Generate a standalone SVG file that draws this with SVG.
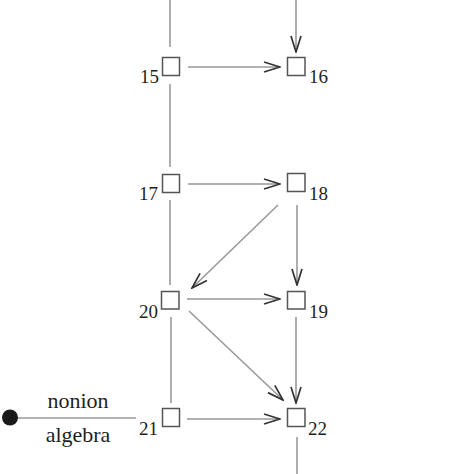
<svg xmlns="http://www.w3.org/2000/svg" width="474" height="474" viewBox="0 0 474 474">
<style>
.ln{stroke:#999;stroke-width:1.6;fill:none}
.ar{marker-end:url(#ah)}
.box{fill:#fff;stroke:#555;stroke-width:1.5}
.lb{font-family:"Liberation Serif","Times New Roman",serif;font-size:19px;fill:#1e1e1e}
.tx{font-family:"Liberation Serif","Times New Roman",serif;font-size:22px;fill:#1e1e1e;text-anchor:middle}
</style>
<defs>
<marker id="ah" viewBox="0 0 18 12" refX="17" refY="6" markerWidth="18" markerHeight="12" markerUnits="userSpaceOnUse" orient="auto">
<path d="M1,1 L17,6 L1,11" fill="none" stroke="#333" stroke-width="1.7"/>
</marker>
</defs>
<rect width="474" height="474" fill="#fff"/>
<g id="connectors">
<line class="ln" x1="170" y1="0" x2="170" y2="47"/>
<line class="ln ar" x1="296" y1="0" x2="296" y2="52"/>
<line class="ln" x1="170" y1="84" x2="170" y2="167"/>
<line class="ln ar" x1="188" y1="67" x2="280" y2="67"/>
<line class="ln" x1="170" y1="200" x2="170" y2="285"/>
<line class="ln ar" x1="188" y1="184" x2="280" y2="184"/>
<line class="ln ar" x1="297" y1="205" x2="297" y2="285"/>
<line class="ln ar" x1="278" y1="205" x2="192" y2="288"/>
<line class="ln ar" x1="187" y1="299" x2="280" y2="299"/>
<line class="ln ar" x1="189" y1="311" x2="283" y2="400"/>
<line class="ln ar" x1="296" y1="317" x2="296" y2="403"/>
<line class="ln" x1="171" y1="317" x2="171" y2="403"/>
<line class="ln ar" x1="187" y1="419" x2="280" y2="419"/>
<line class="ln" x1="297" y1="437" x2="297" y2="474"/>
<line class="ln" x1="11" y1="418" x2="136" y2="418"/>
</g>
<g id="n15"><rect class="box" x="162.5" y="57.5" width="17" height="18"/><text class="lb" x="159" y="83" text-anchor="end">15</text></g>
<g id="n16"><rect class="box" x="287.5" y="57.5" width="17.5" height="18"/><text class="lb" x="309" y="83">16</text></g>
<g id="n17"><rect class="box" x="162.5" y="174.5" width="17" height="18"/><text class="lb" x="158" y="200" text-anchor="end">17</text></g>
<g id="n18"><rect class="box" x="287.5" y="173.5" width="17.5" height="18"/><text class="lb" x="309" y="200">18</text></g>
<g id="n20"><rect class="box" x="161.5" y="291.5" width="17.5" height="17.5"/><text class="lb" x="158" y="318" text-anchor="end">20</text></g>
<g id="n19"><rect class="box" x="287.5" y="291.5" width="17.5" height="17.5"/><text class="lb" x="309" y="318">19</text></g>
<g id="n21"><rect class="box" x="162.5" y="408.5" width="17" height="18"/><text class="lb" x="158" y="435" text-anchor="end">21</text></g>
<g id="n22"><rect class="box" x="287.5" y="408.5" width="17.5" height="18"/><text class="lb" x="308" y="435">22</text></g>
<g id="nonion">
<circle cx="10" cy="417.5" r="8" fill="#1a1a1a"/>
<text class="tx" x="78" y="408">nonion</text>
<text class="tx" x="78" y="442">algebra</text>
</g>
</svg>
